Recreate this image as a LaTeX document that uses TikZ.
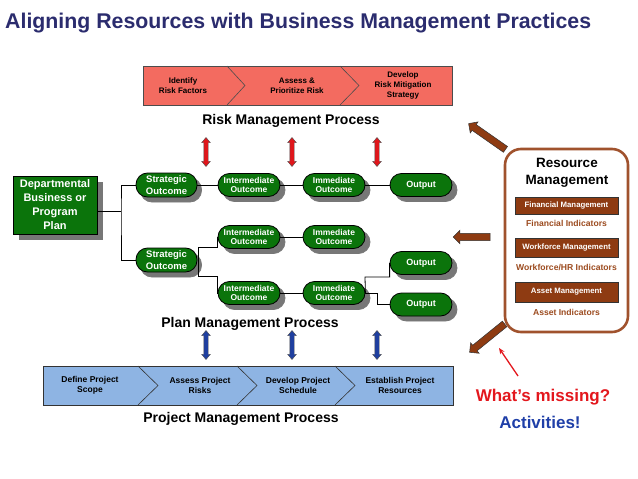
\documentclass[tikz,border=0pt]{standalone}
\usepackage{fontspec}
\setmainfont{Liberation Sans}
\usetikzlibrary{shapes.arrows,arrows.meta}
\definecolor{titleblue}{HTML}{2B2C6E}
\definecolor{riskred}{HTML}{F36B60}
\definecolor{projblue}{HTML}{8EB4E3}
\definecolor{gnode}{HTML}{0B740B}
\definecolor{brownfill}{HTML}{8E3B12}
\definecolor{brownline}{HTML}{A0522D}
\definecolor{browntext}{HTML}{9B4A1E}
\definecolor{arrred}{HTML}{E0161B}
\definecolor{arrblue}{HTML}{1F3FA0}
\definecolor{missred}{HTML}{E3171D}
\definecolor{actblue}{HTML}{1F3FA8}
\definecolor{shadowgray}{HTML}{777777}
\tikzset{
  pill/.style={draw=black,line width=0.8pt,fill=gnode,rounded corners=11.5pt,minimum width=62pt,minimum height=23pt,inner sep=0pt,align=center,text=white,font=\bfseries\fontsize{8.5}{9.5}\selectfont},
  pillshadow/.style={draw=shadowgray,line width=0.8pt,fill=shadowgray,rounded corners=11.5pt,minimum width=62pt,minimum height=23pt,inner sep=0pt},
  bartext/.style={align=center,font=\bfseries\fontsize{8}{10}\selectfont},
  projtext/.style={align=center,font=\bfseries\fontsize{8.5}{10.5}\selectfont},
  proclabel/.style={font=\bfseries\fontsize{14}{16}\selectfont},
  dblarrow/.style={double arrow,rotate=90,minimum height=29pt,inner xsep=0pt,inner ysep=2pt,double arrow head extend=2.2pt,double arrow tip angle=80,draw=black!70,line width=0.4pt},
  brownarrow/.style={single arrow,inner xsep=0pt,inner ysep=3.3pt,single arrow head extend=3.2pt,fill=brownfill,draw=black!80,line width=0.5pt},
  mgmtbox/.style={draw=black!80,line width=0.6pt,fill=brownfill,minimum width=103pt,inner sep=0pt,text=white,font=\bfseries\fontsize{7.8}{9}\selectfont},
  indic/.style={text=browntext,font=\bfseries\fontsize{8.6}{10}\selectfont},
  conn/.style={draw=black,line width=0.8pt}
}
\begin{document}
\begin{tikzpicture}[x=1pt,y=-1pt]
\useasboundingbox (0,0) rectangle (638,479);
% title
\node[anchor=base west,text=titleblue,font=\bfseries\fontsize{21.3}{24}\selectfont,inner sep=0pt] (title) at (5,28) {Aligning Resources with Business Management Practices};

% risk bar
\node[draw=black!70,line width=0.6pt,fill=riskred,minimum width=309pt,minimum height=39pt,inner sep=0pt] (riskbar) at (297.5,85.5) {};
\draw[black!70,line width=0.6pt] (227,66) -- (245,85.5) -- (227,105);
\draw[black!70,line width=0.6pt] (340,66) -- (359,85.5) -- (340,105);
\node[bartext] (r1) at (183,85.5) {Identify\\Risk Factors};
\node[bartext] (r2) at (297,85.5) {Assess \&\\Prioritize Risk};
\node[bartext] (r3) at (403,85.5) {Develop\\Risk Mitigation\\Strategy};
\node[proclabel] (riskl) at (291,121) {Risk Management Process};

% red arrows
\node[dblarrow,fill=arrred] (ra1) at (206,152) {};
\node[dblarrow,fill=arrred] (ra2) at (292,152) {};
\node[dblarrow,fill=arrred] (ra3) at (377,152) {};

% shadows
\fill[shadowgray] (19,182) rectangle (103,240);
\node[pillshadow,minimum width=61pt,minimum height=24pt] (s1sh) at (171,190) {};
\node[pillshadow,minimum width=61pt,minimum height=24pt] (s2sh) at (171,265) {};
\node[pillshadow] (i1sh) at (254,190) {};
\node[pillshadow] (m1sh) at (339,190) {};
\node[pillshadow] (o1sh) at (426,190) {};
\node[pillshadow] (i2sh) at (254,242) {};
\node[pillshadow] (m2sh) at (339,242) {};
\node[pillshadow] (i3sh) at (254,298) {};
\node[pillshadow] (m3sh) at (339,298) {};
\node[pillshadow] (o2sh) at (426,268) {};
\node[pillshadow] (o3sh) at (426,309.5) {};

\coordinate (j1) at (121,211);
\coordinate (j2) at (198,247);
\coordinate (j3) at (198,276);
\coordinate (k2) at (217,247);
\coordinate (k3) at (217,276);
\coordinate (a1) at (365,277);
\coordinate (a2) at (377,293);
\draw[conn] (j1) -- (97,211);

% departmental plan
\node[draw=black,line width=0.8pt,fill=gnode,minimum width=84pt,minimum height=58pt,inner sep=0pt,align=center,text=white,font=\bfseries\fontsize{11}{14}\selectfont] (dept) at (55,205) {Departmental\\Business or\\Program\\Plan};

% green nodes
\node[pill,font=\bfseries\fontsize{9.5}{11.5}\selectfont,minimum width=61pt,minimum height=24pt] (s1) at (166.5,185) {Strategic\\Outcome};
\node[pill,font=\bfseries\fontsize{9.5}{11.5}\selectfont,minimum width=61pt,minimum height=24pt] (s2) at (166.5,260) {Strategic\\Outcome};
\node[pill] (i1) at (249,185) {Intermediate\\Outcome};
\node[pill] (m1) at (334,185) {Immediate\\Outcome};
\node[pill,font=\bfseries\fontsize{9}{11}\selectfont] (o1) at (421,185) {Output};
\node[pill] (i2) at (249,237) {Intermediate\\Outcome};
\node[pill] (m2) at (334,237) {Immediate\\Outcome};
\node[pill] (i3) at (249,293) {Intermediate\\Outcome};
\node[pill] (m3) at (334,293) {Immediate\\Outcome};
\node[pill,font=\bfseries\fontsize{9}{11}\selectfont] (o2) at (421,263) {Output};
\node[pill,font=\bfseries\fontsize{9}{11}\selectfont] (o3) at (421,304.5) {Output};

\draw[conn] (s1.west) -| (j1) |- (s2.west);
\draw[conn] (s1.east) -- (i1.west);
\draw[conn] (i1.east) -- (m1.west);
\draw[conn] (m1.east) -- (o1.west);
\draw[conn] (j2) -- (j3);
\draw[conn] (j2) -- (k2) |- (i2.west);
\draw[conn] (j3) -- (k3) |- (i3.west);
\draw[conn] (i2.east) -- (m2.west);
\draw[conn] (i3.east) -- (m3.west);
\draw[conn] (m3.east) -- (a1) -| (o2.west);
\draw[conn] (m3.east) -- (a2) |- (o3.west);

\node[proclabel] (planl) at (250,324) {Plan Management Process};

% blue arrows
\node[dblarrow,fill=arrblue] (ba1) at (206,345) {};
\node[dblarrow,fill=arrblue] (ba2) at (292,345) {};
\node[dblarrow,fill=arrblue] (ba3) at (377,345) {};

% project bar
\node[draw=black!80,line width=0.6pt,fill=projblue,minimum width=410pt,minimum height=39pt,inner sep=0pt] (projbar) at (248,385.5) {};
\draw[black!80,line width=0.6pt] (138,366) -- (158,385.5) -- (138,405);
\draw[black!80,line width=0.6pt] (237,366) -- (257,385.5) -- (237,405);
\draw[black!80,line width=0.6pt] (335,366) -- (355,385.5) -- (335,405);
\node[projtext] (p1) at (90,385.5) {Define Project\\Scope};
\node[projtext] (p2) at (200,385.5) {Assess Project\\Risks};
\node[projtext] (p3) at (298,385.5) {Develop Project\\Schedule};
\node[projtext] (p4) at (400,385.5) {Establish Project\\Resources};
\node[proclabel] (projl) at (241,419) {Project Management Process};

% resource management
\node[draw=brownline,line width=2.6pt,rounded corners=16pt,minimum width=123pt,minimum height=183pt,inner sep=0pt] (res) at (566.5,240.5) {};
\node[align=center,font=\bfseries\fontsize{13.5}{16.5}\selectfont] (restitle) at (567,173) {Resource\\Management};
\node[mgmtbox,minimum height=17pt] (fin) at (566.5,205.5) {Financial Management};
\node[indic] (fini) at (566.5,223) {Financial Indicators};
\node[mgmtbox,minimum height=19pt] (wf) at (566.5,247.5) {Workforce Management};
\node[indic] (wfi) at (566.5,267) {Workforce/HR Indicators};
\node[mgmtbox,minimum height=20pt] (as) at (566.5,292) {Asset Management};
\node[indic] (asi) at (566.5,312) {Asset Indicators};

% brown arrows
\node[brownarrow,minimum height=45pt,rotate=145] (b1) at (488.5,137.5) {};
\node[brownarrow,minimum height=37pt,rotate=180] (b2) at (473.5,237) {};
\node[brownarrow,minimum height=45pt,rotate=219] (b3) at (488.5,337) {};

% missing
\coordinate (rt) at (499,348);
\coordinate (rs) at (518,376);
\draw[missred,line width=1.3pt,-{Stealth[length=6pt,width=5pt]}] (rs) -- (rt);
\node[text=missred,font=\bfseries\fontsize{17}{20}\selectfont] (miss) at (543,397) {What’s missing?};
\node[text=actblue,font=\bfseries\fontsize{17}{20}\selectfont] (act) at (540,422) {Activities!};
\end{tikzpicture}
\end{document}
